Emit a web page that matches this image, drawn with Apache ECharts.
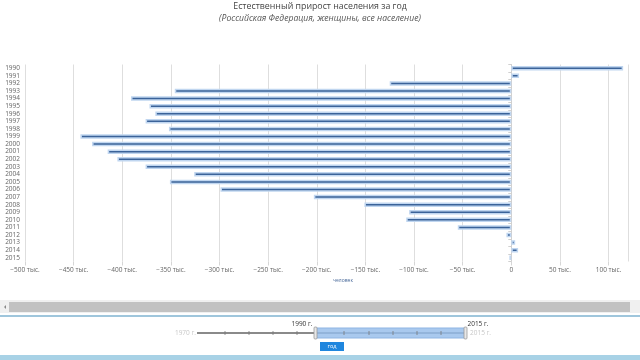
<!DOCTYPE html>
<html>
<head>
<meta charset="utf-8">
<script src="https://cdn.jsdelivr.net/npm/echarts@6/dist/echarts.min.js"></script>
<style>
html,body{margin:0;padding:0;background:#fff;}
#c{width:640px;height:360px;}
</style>
</head>
<body>
<div id="c"></div>
<script>
// Data (values in thousands of people)
var years = ['1990','1991','1992','1993','1994','1995','1996','1997','1998','1999','2000','2001','2002','2003','2004','2005','2006','2007','2008','2009','2010','2011','2012','2013','2014','2015'];
var growth = [115, 8, -125, -346, -391, -372, -366, -376, -352, -443, -431, -415, -405, -376, -326, -351, -299, -203, -151, -105, -108, -55, -5, 4, 7, -2];
var xTickMin = -500, xTickMax = 100, xTickStep = 50, xAxisEnd = 120;
var titleText = 'Естественный прирост населения за год';
var subtitleText = '(Российская Федерация, женщины, все население)';
var axisName = 'человек';
var sliderLabels = ['1970 г.', '1990 г.', '2015 г.', '2015 г.', 'год'];

var chart = echarts.init(document.getElementById('c'), null, {renderer:'canvas'});
var FF = '"Open Sans", sans-serif';

function fmt(v){
  if (v === 0) return '0';
  if (v > xTickMax) return '';
  return (v < 0 ? '\u2212' : '') + Math.abs(v) + ' тыс.';
}

var tickXs = [225, 249, 273, 297, 344, 369, 393, 417, 441];
var graphics = [
  {type:'text', left:'center', top:2, style:{text:titleText, font:'8.8px ' + FF, fill:'#444'}},
  {type:'text', left:'center', top:14, style:{text:subtitleText, font:'italic 8.6px ' + FF, fill:'#555'}},
  // scrollbar
  {type:'rect', shape:{x:0, y:300, width:640, height:13}, style:{fill:'#f0f0f0'}},
  {type:'rect', shape:{x:9, y:302, width:621, height:10}, style:{fill:'#c2c2c2'}},
  {type:'polygon', shape:{points:[[4,307],[6,305],[6,309]]}, style:{fill:'#888'}},
  {type:'rect', shape:{x:0, y:315, width:640, height:2}, style:{fill:'#9fc6dc'}},
  // timeline
  {type:'line', shape:{x1:197, y1:333, x2:316, y2:333}, style:{stroke:'#8a8a8a', lineWidth:2}},
  {type:'rect', shape:{x:316, y:328, width:150, height:10}, style:{fill:'#a9c9ee', stroke:'#8fb5e3', lineWidth:1}},
  {type:'line', shape:{x1:316, y1:333, x2:466, y2:333}, style:{stroke:'#7d9fc7', lineWidth:1}},
  {type:'rect', shape:{x:314, y:327, width:3, height:12, r:1}, style:{fill:'#e8e8e8', stroke:'#999', lineWidth:0.8}},
  {type:'rect', shape:{x:464, y:327, width:3, height:12, r:1}, style:{fill:'#e8e8e8', stroke:'#999', lineWidth:0.8}},
  {type:'text', x:196, y:333, style:{text:sliderLabels[0], font:'6.5px ' + FF, fill:'#c8c8c8', align:'right', verticalAlign:'middle'}},
  {type:'text', x:302, y:324, style:{text:sliderLabels[1], font:'6.5px ' + FF, fill:'#333', align:'center', verticalAlign:'middle'}},
  {type:'text', x:478, y:324, style:{text:sliderLabels[2], font:'6.5px ' + FF, fill:'#333', align:'center', verticalAlign:'middle'}},
  {type:'text', x:470, y:333, style:{text:sliderLabels[3], font:'6.5px ' + FF, fill:'#c8c8c8', align:'left', verticalAlign:'middle'}},
  {type:'rect', shape:{x:320, y:342, width:24, height:9}, style:{fill:'#1f86de'}},
  {type:'text', x:332, y:346.5, style:{text:sliderLabels[4], font:'5.5px ' + FF, fill:'#fff', align:'center', verticalAlign:'middle'}},
  {type:'rect', shape:{x:0, y:355, width:640, height:5}, style:{fill:'#a8d2e6'}}
];
tickXs.forEach(function(x){
  graphics.push({type:'line', shape:{x1:x, y1:331, x2:x, y2:335}, style:{stroke:'#7a7a7a', lineWidth:0.8}});
});

chart.setOption({
  animation:false,
  backgroundColor:'#fff',
  grid:{left:25, right:12, top:64.5, bottom:98.5, containLabel:false},
  xAxis:{
    type:'value', min:xTickMin, max:xAxisEnd, interval:xTickStep,
    axisLine:{show:false},
    axisTick:{show:true, length:4, lineStyle:{color:'#d6d6d6'}},
    splitLine:{show:true, lineStyle:{color:'#dedede', width:1}},
    axisLabel:{formatter:fmt, fontSize:6.5, color:'#666', fontFamily:FF, margin:5, showMaxLabel:false},
    name:axisName, nameLocation:'middle', nameGap:16,
    nameTextStyle:{fontSize:5, color:'#4c6c9c', fontFamily:FF, padding:[0,0,0,33]}
  },
  yAxis:{
    type:'category', data:years, inverse:true,
    axisLine:{show:true, lineStyle:{color:'#d0d0d0'}},
    axisTick:{show:true, length:3, interval:0, lineStyle:{color:'#d0d0d0'}},
    axisLabel:{interval:0, fontSize:6.5, color:'#666', fontFamily:FF, margin:5}
  },
  series:[{
    type:'bar', data:growth, barWidth:4.5,
    itemStyle:{color:'#3b6399', borderColor:'#c0d6f0', borderWidth:1.5}
  }],
  graphic:graphics
});
</script>
</body>
</html>
